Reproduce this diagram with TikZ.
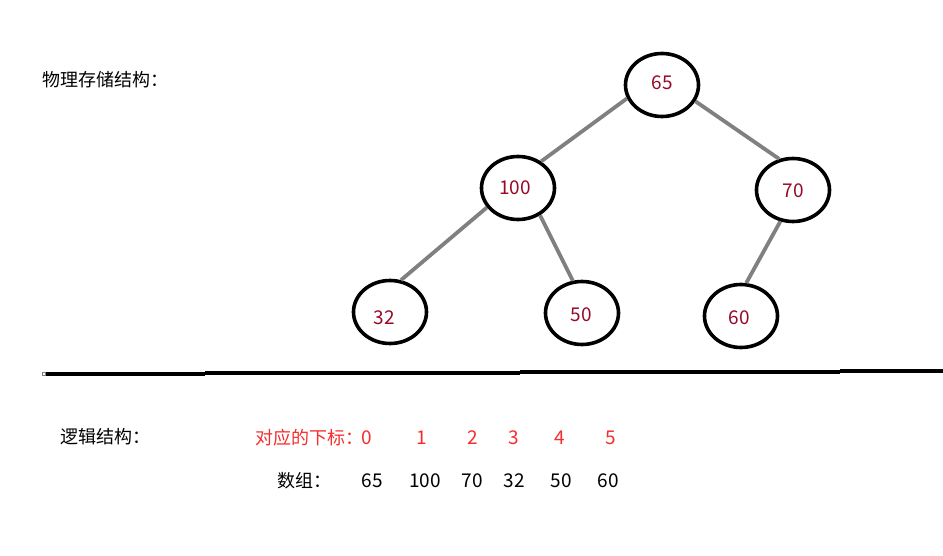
\documentclass[tikz,border=0pt]{standalone}
\usepackage{fontspec}
\setmainfont{Noto Sans CJK SC}
\usetikzlibrary{shapes.geometric}
\definecolor{valred}{RGB}{150,10,40}
\definecolor{idxred}{RGB}{245,45,45}
\definecolor{edgegray}{RGB}{128,128,128}
\begin{document}
\begin{tikzpicture}[x=1pt,y=-1pt,
  treenode/.style={ellipse, draw=black, line width=3.6pt, minimum width=73pt, minimum height=63pt, inner sep=0pt},
  valtext/.style={text=valred, font=\fontsize{19}{21}\selectfont},
  edge/.style={draw=edgegray, line width=3.8pt},
  label/.style={anchor=west, font=\fontsize{18}{20}\selectfont, inner sep=0pt},
  cell/.style={font=\fontsize{19}{21}\selectfont, inner sep=0pt}]
\useasboundingbox (0,0) rectangle (943,556);
% tree nodes
\node[treenode] (n65) at (662,85) {};
\node[treenode] (n100) at (518,188) {};
\node[treenode] (n70) at (793,190) {};
\node[treenode] (n32) at (390,312) {};
\node[treenode] (n50) at (582,313) {};
\node[treenode] (n60) at (741,316) {};
\node[valtext] (t65) at (662,83) {65};
\node[valtext] (t100) at (515,188) {100};
\node[valtext] (t70) at (793,191) {70};
\node[valtext] (t32) at (384,318) {32};
\node[valtext] (t50) at (581,315) {50};
\node[valtext] (t60) at (739,318) {60};
% edges
\draw[edge] (n65.201) -- (n100.49);
\draw[edge] (n65.334) -- (n70.114);
\draw[edge] (n100.212) -- (n32.71);
\draw[edge] (n100.309) -- (n50.106);
\draw[edge] (n70.248) -- (n60.81);
% separator line
\coordinate (s0) at (45,374);
\coordinate (s1) at (205,374);
\coordinate (s2) at (205,373);
\coordinate (s3) at (520,373);
\coordinate (s4) at (520,372);
\coordinate (s5) at (840,372);
\coordinate (s6) at (840,371);
\coordinate (s7) at (943,371);
\draw[line width=3.6pt] (s0) -- (s1) (s2) -- (s3) (s4) -- (s5) (s6) -- (s7);
\node[draw=gray, fill=white, line width=0.6pt, minimum size=3pt, inner sep=0pt] (sq) at (44,374) {};
% labels
\node[label] (phys) at (42,80) {物理存储结构：};
\node[label] (logic) at (60,437) {逻辑结构：};
\node[label, text=idxred] (idx) at (255,438) {对应的下标：};
\node[label] (arr) at (277,481) {数组：};
% indices
\node[cell, text=idxred] (i0) at (367,438) {0};
\node[cell, text=idxred] (i1) at (422,438) {1};
\node[cell, text=idxred] (i2) at (473,438) {2};
\node[cell, text=idxred] (i3) at (514,438) {3};
\node[cell, text=idxred] (i4) at (560,438) {4};
\node[cell, text=idxred] (i5) at (611,438) {5};
% values
\node[cell] (v0) at (372,481) {65};
\node[cell] (v1) at (425,481) {100};
\node[cell] (v2) at (472,481) {70};
\node[cell] (v3) at (514,481) {32};
\node[cell] (v4) at (561,481) {50};
\node[cell] (v5) at (608,481) {60};
\end{tikzpicture}
\end{document}
